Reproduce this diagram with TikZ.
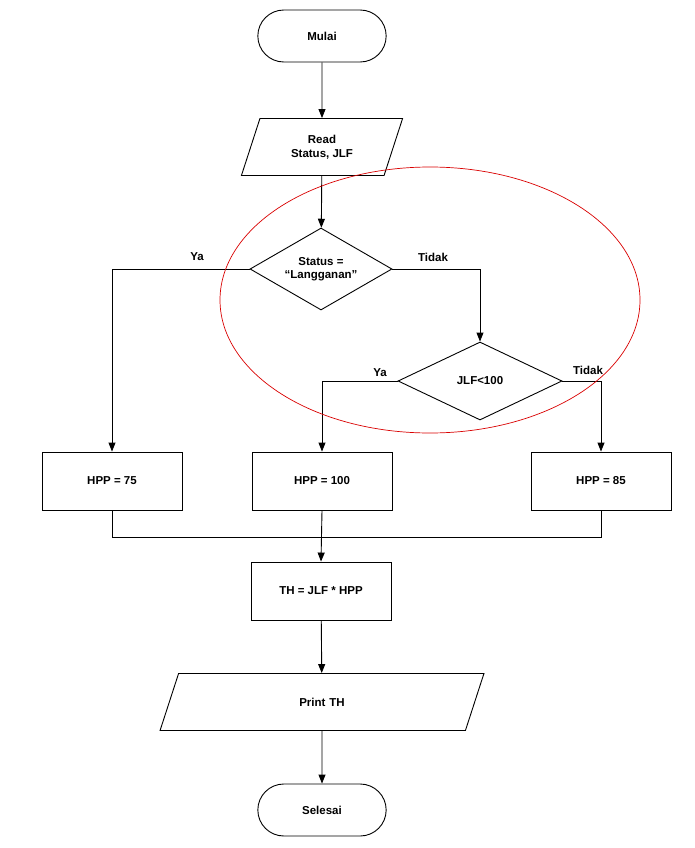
\documentclass[tikz,border=0pt]{standalone}
\usepackage{fontspec}
\setmainfont{Liberation Sans}
\usetikzlibrary{shapes.geometric,shapes.misc,arrows.meta}
\begin{document}
\begin{tikzpicture}[x=1pt,y=-1pt,
  every node/.style={font=\bfseries\fontsize{11.5}{13.5}\selectfont, align=center},
  term/.style={draw, line width=0.9pt, rounded rectangle, minimum width=135pt, minimum height=52pt},
  box/.style={draw, line width=0.9pt, minimum width=140pt, minimum height=58pt},
  io/.style={draw, line width=0.9pt, trapezium, trapezium left angle=72, trapezium right angle=108, minimum height=57pt, inner xsep=2pt},
  dec/.style={draw, line width=0.9pt, diamond, aspect=1.8, inner sep=0pt},
  arr/.style={draw, line width=0.9pt, -{Triangle[length=9pt,width=7pt]}},
  ln/.style={draw, line width=0.9pt},
  lbl/.style={font=\bfseries\fontsize{11.5}{13.5}\selectfont}]
\useasboundingbox (0,0) rectangle (694,848);
\node[term] (mulai) at (322,36) {Mulai};
\node[io, minimum width=140pt] (read) at (322,147) {Read\\Status, JLF};
\node[dec, minimum width=142pt, minimum height=82pt] (d1) at (321,269) {Status =\\``Langganan''};
\node[dec, minimum width=164pt, minimum height=78pt] (d2) at (480,381) {JLF<100};
\node[box] (h75) at (112,481) {HPP = 75};
\node[box] (h100) at (322,481) {HPP = 100};
\node[box] (h85) at (601,481) {HPP = 85};
\node[box] (th) at (321,591) {TH = JLF * HPP};
\node[io, text width=72pt] (print) at (322,702) {Print TH};
\node[term] (selesai) at (322,810) {Selesai};
\coordinate (m1) at (112,537);
\coordinate (m3) at (601,537);
\path[arr] (mulai) -- (read);
\path[arr] (read) -- (d1);
\path[arr] (d1.west) -| (h75.north);
\path[arr] (d1.east) -| (d2.north);
\path[arr] (d2.west) -| (h100.north);
\path[arr] (d2.east) -| (h85.north);
\path[ln] (h75.south) -- (m1) -- (m3) -- (h85.south);
\path[arr] (h100.south) -- (th.north);
\path[arr] (th) -- (print);
\path[arr] (print) -- (selesai);
\node[lbl] (ya1) at (197,257) {Ya};
\node[lbl] (td1) at (433,257) {Tidak};
\node[lbl] (ya2) at (380,373) {Ya};
\node[lbl] (td2) at (588,370) {Tidak};
\draw[red!85!black, line width=0.7pt] (430,300) ellipse [x radius=210, y radius=133];
\end{tikzpicture}
\end{document}
